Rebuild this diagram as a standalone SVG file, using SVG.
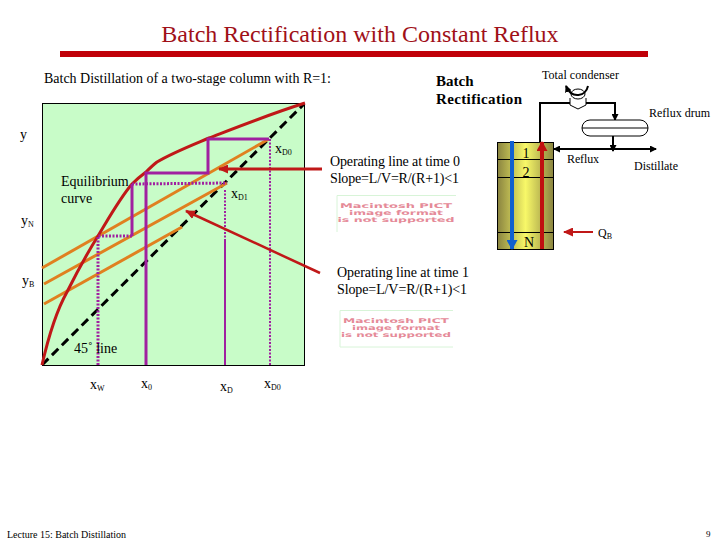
<svg xmlns="http://www.w3.org/2000/svg" width="720" height="540" viewBox="0 0 720 540">
<style>
text{font-family:"Liberation Serif","Times New Roman",serif;fill:#000}
.s12{font-size:12px}.s14{font-size:14px}
.sub{font-size:8px}
.pict{font-family:"DejaVu Sans",sans-serif;font-weight:bold;font-size:6.5px;fill:#e58a98;text-anchor:middle}
.op{fill:none;stroke:#e08020;stroke-width:3}
.pur{fill:none;stroke:#a020a0}
.dot{stroke-dasharray:2 1.5}
.blk{fill:none;stroke:#000;stroke-width:2}
</style>
<defs>
<linearGradient id="col" x1="0" x2="1" y1="0" y2="0">
<stop offset="0" stop-color="#8a8440"/><stop offset="0.5" stop-color="#f8f868"/><stop offset="1" stop-color="#8a8440"/>
</linearGradient>
<marker id="ar" markerWidth="10" markerHeight="9" refX="9" refY="4.500" orient="auto" markerUnits="userSpaceOnUse"><path d="M0 0L10 4.500L0 9z" fill="#c01818"/></marker>
<marker id="ab" markerWidth="10" markerHeight="11" refX="9" refY="5.500" orient="auto" markerUnits="userSpaceOnUse"><path d="M0 0L10 5.500L0 11z" fill="#1060d0"/></marker>
<marker id="ac" markerWidth="10" markerHeight="11" refX="9" refY="5.500" orient="auto" markerUnits="userSpaceOnUse"><path d="M0 0L10 5.500L0 11z" fill="#c01010"/></marker>
<marker id="ak" markerWidth="7" markerHeight="7" refX="6" refY="3.500" orient="auto" markerUnits="userSpaceOnUse"><path d="M0 0L7 3.500L0 7z" fill="#000"/></marker>
</defs>
<g id="title">
<text x="360" y="42" font-size="24" text-anchor="middle" style="fill:#a01018">Batch Rectification with Constant Reflux</text>
<rect x="60" y="51" width="588" height="6" fill="#c00008"/>
</g>
<g id="headings">
<text x="44" y="83" class="s14" textLength="287">Batch Distillation of a two-stage column with R=1:</text>
<text x="436" y="86" font-size="15" font-weight="bold">Batch</text>
<text x="436" y="104" font-size="15" font-weight="bold" textLength="86">Rectification</text>
</g>
<g id="chart">
<rect x="42.5" y="103.500" width="262" height="262" fill="#c8fcc8" stroke="#000" stroke-width="1"/>
<path d="M42 365L304 104" fill="none" stroke="#000" stroke-width="3" stroke-dasharray="9 5"/>
<path class="op" d="M42 268L269 139"/>
<path class="op" d="M44 284L227 183"/>
<path class="op" d="M44 304L182 227"/>
<path d="M42 365C50 330 58 308 67 292C78 270 88 252 98 236C110 216 120 198 132 184C138 178 142 175 146 172C150 168 153 165 157 162C172 153 190 146 209 138C240 126 270 114 305 103" fill="none" stroke="#c01818" stroke-width="3"/>
<path class="pur" stroke-width="3" d="M146 365V173H208V139H269"/>
<path class="pur dot" stroke-width="3" d="M98 365V236H132"/>
<path class="pur" stroke-width="3" d="M132 236V184"/>
<path class="pur dot" stroke-width="3" d="M132 184L227 183"/>
<path class="pur dot" stroke-width="2" d="M225 190V240"/>
<path class="pur" stroke-width="2" d="M225 240V365"/>
<path class="pur dot" stroke-width="2" d="M270 139V366"/>
</g>
<g id="chart-labels">
<text x="20" y="139" class="s14">y</text>
<text x="21" y="225" class="s14">y<tspan class="sub" dy="2">N</tspan></text>
<text x="22" y="285" class="s14">y<tspan class="sub" dy="2">B</tspan></text>
<text x="275" y="153" class="s14">x<tspan class="sub" dy="2">D0</tspan></text>
<text x="231" y="198" class="s14">x<tspan class="sub" dy="2">D1</tspan></text>
<text x="61" y="186" class="s14">Equilibrium</text>
<text x="61" y="203" class="s14">curve</text>
<text x="74" y="353" class="s14">45˚ line</text>
<text x="90" y="389" class="s14">x<tspan class="sub" dy="2">W</tspan></text>
<text x="141" y="388" class="s14">x<tspan class="sub" dy="2">0</tspan></text>
<text x="220" y="391" class="s14">x<tspan class="sub" dy="2">D</tspan></text>
<text x="264" y="388" class="s14">x<tspan class="sub" dy="2">D0</tspan></text>
</g>
<g id="connectors">
<path d="M322 169H219" fill="none" stroke="#c01818" stroke-width="3" marker-end="url(#ar)"/>
<path d="M320 273L186 211" fill="none" stroke="#c01818" stroke-width="2.500" marker-end="url(#ar)"/>
<path d="M593 232H564" fill="none" stroke="#c01818" stroke-width="2" marker-end="url(#ar)"/>
</g>
<g id="op0">
<text x="330" y="166" class="s14" textLength="130">Operating line at time 0</text>
<text x="330" y="183" class="s14" textLength="129">Slope=L/V=R/(R+1)&lt;1</text>
<path d="M337 232V195.500H456" fill="none" stroke="#d8f4d8"/>
<text x="396" y="208" class="pict" textLength="112" lengthAdjust="spacingAndGlyphs">Macintosh PICT</text>
<text x="396" y="215" class="pict" textLength="94" lengthAdjust="spacingAndGlyphs">image format</text>
<text x="396" y="222" class="pict" textLength="117" lengthAdjust="spacingAndGlyphs">is not supported</text>
</g>
<g id="op1">
<text x="337" y="277" class="s14" textLength="132">Operating line at time 1</text>
<text x="337" y="294" class="s14" textLength="130">Slope=L/V=R/(R+1)&lt;1</text>
<path d="M340 347V310.500H453M340 347H453" fill="none" stroke="#d8f4d8"/>
<text x="396" y="323" class="pict" textLength="106" lengthAdjust="spacingAndGlyphs">Macintosh PICT</text>
<text x="396" y="330" class="pict" textLength="88" lengthAdjust="spacingAndGlyphs">image format</text>
<text x="396" y="337" class="pict" textLength="110" lengthAdjust="spacingAndGlyphs">is not supported</text>
</g>
<g id="column">
<rect x="497.500" y="142.500" width="56" height="107" fill="url(#col)" stroke="#000"/>
<path d="M497 159.500H553M497 177.500H553M497 232.500H553" stroke="#000" fill="none"/>
<text x="526" y="158" font-size="14" text-anchor="middle">1</text>
<text x="526" y="177" font-size="14" text-anchor="middle">2</text>
<text x="529" y="247" font-size="14" text-anchor="middle">N</text>
<path d="M512 141V249" fill="none" stroke="#1060d0" stroke-width="4" marker-end="url(#ab)"/>
<path d="M542 249V142" fill="none" stroke="#c01010" stroke-width="4" marker-end="url(#ac)"/>
</g>
<g id="condenser">
<path class="blk" d="M540 142V103H615V120" marker-end="url(#ak)"/>
<path d="M570 98V105L578 109L586 105V98" fill="#fff" stroke="#000"/>
<ellipse cx="578" cy="94" rx="7" ry="5" fill="#fff" stroke="#000"/>
<path d="M588 86C586 96 572 100 566 86" fill="none" stroke="#000" stroke-width="2" marker-end="url(#ak)"/>
<text x="542" y="79" class="s12" textLength="77">Total condenser</text>
</g>
<g id="drum">
<rect x="582" y="120" width="66" height="16" rx="8" fill="#fff" stroke="#000"/>
<path d="M582 128H648" stroke="#000" fill="none"/>
<path class="blk" d="M613 136V151" marker-end="url(#ak)"/>
<path class="blk" d="M613 149H554" marker-end="url(#ak)"/>
<path class="blk" d="M613 149H656" marker-end="url(#ak)"/>
<text x="649" y="117" class="s12" textLength="61">Reflux drum</text>
<text x="567" y="163" class="s12" textLength="32">Reflux</text>
<text x="634" y="170" class="s12" textLength="44">Distillate</text>
<text x="598" y="237" class="s12">Q<tspan class="sub" dy="2">B</tspan></text>
</g>
<g id="footer">
<text x="7" y="538" style="font-size:10px" textLength="119">Lecture 15: Batch Distillation</text>
<text x="706" y="537" style="font-size:9px">9</text>
</g>
</svg>
